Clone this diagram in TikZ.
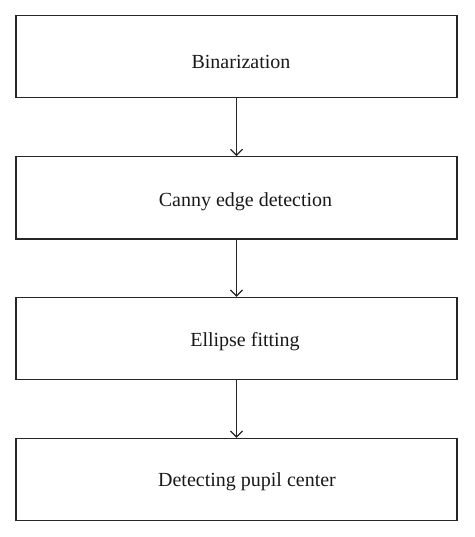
\documentclass[tikz,border=0pt]{standalone}
\usepackage{fontspec}
\setmainfont{Liberation Serif}
\usetikzlibrary{arrows.meta}
\begin{document}
\begin{tikzpicture}[x=1pt,y=-1pt,
  stepbox/.style={draw=black!85,line width=1.4pt,minimum width=441pt,minimum height=82pt,inner sep=0pt,text depth=0pt,font=\fontsize{20}{24}\selectfont,text=black!90},
  conn/.style={draw=black!85,line width=1.2pt,-{Straight Barb[length=6pt,width=12pt,line width=1.2pt]}}]
\useasboundingbox (0,0) rectangle (474,537);
\node[stepbox,text height=23pt] (b1) at (236.5,56.6) {\hspace*{9pt}Binarization};
\node[stepbox,text height=18.4pt] (b2) at (236.5,197.8) {\hspace*{18pt}Canny edge detection};
\node[stepbox,text height=16.2pt] (b3) at (236.5,338.5) {\hspace*{17pt}Ellipse fitting};
\node[stepbox,text height=14.8pt] (b4) at (236.5,479.5) {\hspace*{21pt}Detecting pupil center};
\draw[conn] (b1) -- (b2);
\draw[conn] (b2) -- (b3);
\draw[conn] (b3) -- (b4);
\end{tikzpicture}
\end{document}
